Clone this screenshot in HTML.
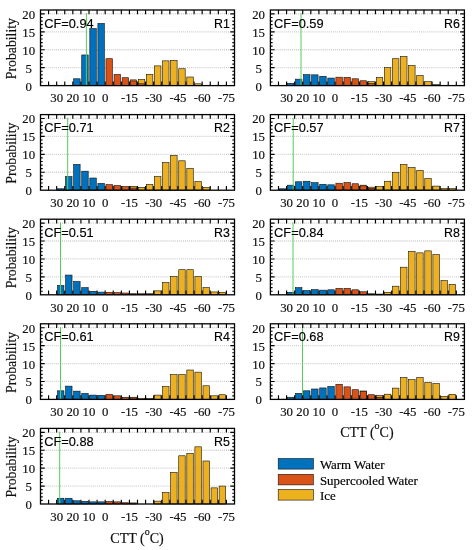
<!DOCTYPE html>
<html><head><meta charset="utf-8"><title>CTT histograms</title>
<style>
html,body{margin:0;padding:0;background:#fff;}
body{width:475px;height:550px;overflow:hidden;}
svg{display:block;}
.grid{stroke:#cdcdcd;stroke-width:1.3;stroke-dasharray:1 1.05;}
.bar{stroke:#111;stroke-width:0.6;}
.tick{stroke:#000;stroke-width:1.15;fill:none;}
.box{stroke:#000;stroke-width:1.3;fill:none;}
.tl{font-family:'Liberation Serif','Times New Roman',serif;font-size:12.8px;fill:#111;stroke:#111;stroke-width:0.18px;}
.lab{font-family:'Liberation Serif','Times New Roman',serif;font-size:13.75px;fill:#111;stroke:#111;stroke-width:0.18px;}
.ann{font-family:'Liberation Sans',Arial,sans-serif;font-size:12.8px;fill:#000;stroke:#000;stroke-width:0.15px;}
.leg{font-family:'Liberation Serif','Times New Roman',serif;font-size:12.9px;fill:#000;stroke:#000;stroke-width:0.18px;}
</style></head>
<body>
<svg width="475" height="550" viewBox="0 0 475 550">
<rect width="475" height="550" fill="#fff"/>
<line x1="41.5" y1="67.67" x2="233.5" y2="67.67" class="grid"/>
<line x1="41.5" y1="49.75" x2="233.5" y2="49.75" class="grid"/>
<line x1="41.5" y1="31.82" x2="233.5" y2="31.82" class="grid"/>
<line x1="41.5" y1="13.9" x2="233.5" y2="13.9" class="grid"/>
<rect x="73.64" y="78.79" width="6.47" height="6.81" fill="#0072BD" class="bar"/>
<rect x="81.73" y="54.95" width="6.47" height="30.65" fill="#0072BD" class="bar"/>
<rect x="89.81" y="28.6" width="6.47" height="57" fill="#0072BD" class="bar"/>
<rect x="97.89" y="23.4" width="6.47" height="62.2" fill="#0072BD" class="bar"/>
<rect x="130.22" y="79.86" width="6.47" height="5.74" fill="#EDB120" class="bar"/>
<rect x="138.31" y="79.51" width="6.47" height="6.09" fill="#EDB120" class="bar"/>
<rect x="146.39" y="74.31" width="6.47" height="11.29" fill="#EDB120" class="bar"/>
<rect x="154.47" y="65.88" width="6.47" height="19.72" fill="#EDB120" class="bar"/>
<rect x="162.56" y="60.86" width="6.47" height="24.74" fill="#EDB120" class="bar"/>
<rect x="170.64" y="60.33" width="6.47" height="25.27" fill="#EDB120" class="bar"/>
<rect x="178.73" y="68.75" width="6.47" height="16.85" fill="#EDB120" class="bar"/>
<rect x="186.81" y="77" width="6.47" height="8.6" fill="#EDB120" class="bar"/>
<rect x="194.89" y="83.81" width="6.47" height="1.79" fill="#EDB120" class="bar"/>
<rect x="105.97" y="58.71" width="6.47" height="26.89" fill="#D95319" class="bar"/>
<rect x="114.06" y="74.49" width="6.47" height="11.11" fill="#D95319" class="bar"/>
<rect x="122.14" y="77.71" width="6.47" height="7.89" fill="#D95319" class="bar"/>
<rect x="130.22" y="80.94" width="6.47" height="4.66" fill="#D95319" class="bar"/>
<rect x="138.31" y="83.81" width="6.47" height="1.79" fill="#D95319" class="bar"/>
<line x1="86.4" y1="13.2" x2="86.4" y2="85.6" stroke="rgb(86,205,86)" stroke-width="1"/>
<path d="M48.58 85.6v-4.2M48.58 10v4.2M56.67 85.6v-4.2M56.67 10v4.2M64.75 85.6v-4.2M64.75 10v4.2M72.83 85.6v-4.2M72.83 10v4.2M80.92 85.6v-4.2M80.92 10v4.2M89 85.6v-4.2M89 10v4.2M97.08 85.6v-4.2M97.08 10v4.2M105.17 85.6v-4.2M105.17 10v4.2M113.25 85.6v-4.2M113.25 10v4.2M121.33 85.6v-4.2M121.33 10v4.2M129.42 85.6v-4.2M129.42 10v4.2M137.5 85.6v-4.2M137.5 10v4.2M145.58 85.6v-4.2M145.58 10v4.2M153.67 85.6v-4.2M153.67 10v4.2M161.75 85.6v-4.2M161.75 10v4.2M169.83 85.6v-4.2M169.83 10v4.2M177.92 85.6v-4.2M177.92 10v4.2M186 85.6v-4.2M186 10v4.2M194.08 85.6v-4.2M194.08 10v4.2M202.17 85.6v-4.2M202.17 10v4.2M210.25 85.6v-4.2M210.25 10v4.2M218.33 85.6v-4.2M218.33 10v4.2M226.42 85.6v-4.2M226.42 10v4.2M40.5 82.02h2.2M234.5 82.02h-2.2M40.5 78.43h2.2M234.5 78.43h-2.2M40.5 74.84h2.2M234.5 74.84h-2.2M40.5 71.26h2.2M234.5 71.26h-2.2M40.5 67.67h4.2M234.5 67.67h-4.2M40.5 64.09h2.2M234.5 64.09h-2.2M40.5 60.5h2.2M234.5 60.5h-2.2M40.5 56.92h2.2M234.5 56.92h-2.2M40.5 53.33h2.2M234.5 53.33h-2.2M40.5 49.75h4.2M234.5 49.75h-4.2M40.5 46.16h2.2M234.5 46.16h-2.2M40.5 42.58h2.2M234.5 42.58h-2.2M40.5 38.99h2.2M234.5 38.99h-2.2M40.5 35.41h2.2M234.5 35.41h-2.2M40.5 31.82h4.2M234.5 31.82h-4.2M40.5 28.24h2.2M234.5 28.24h-2.2M40.5 24.65h2.2M234.5 24.65h-2.2M40.5 21.07h2.2M234.5 21.07h-2.2M40.5 17.48h2.2M234.5 17.48h-2.2M40.5 13.9h4.2M234.5 13.9h-4.2" class="tick"/>
<rect x="40.5" y="10" width="194" height="75.6" class="box"/>
<text x="28.7" y="90.55" class="tl" text-anchor="middle">0</text>
<text x="28.7" y="72.62" class="tl" text-anchor="middle">5</text>
<text x="28.7" y="54.7" class="tl" text-anchor="middle">10</text>
<text x="28.7" y="36.77" class="tl" text-anchor="middle">15</text>
<text x="28.7" y="18.85" class="tl" text-anchor="middle">20</text>
<text x="56.67" y="102.4" class="tl" text-anchor="middle">30</text>
<text x="72.83" y="102.4" class="tl" text-anchor="middle">20</text>
<text x="89" y="102.4" class="tl" text-anchor="middle">10</text>
<text x="105.17" y="102.4" class="tl" text-anchor="middle">0</text>
<text x="129.42" y="102.4" class="tl" text-anchor="middle">-15</text>
<text x="153.67" y="102.4" class="tl" text-anchor="middle">-30</text>
<text x="177.92" y="102.4" class="tl" text-anchor="middle">-45</text>
<text x="202.17" y="102.4" class="tl" text-anchor="middle">-60</text>
<text x="226.42" y="102.4" class="tl" text-anchor="middle">-75</text>
<text x="44.2" y="27.6" class="ann">CF=0.94</text>
<text x="229.9" y="27.6" class="ann" text-anchor="end" style="font-size:12.4px">R1</text>
<text x="16.1" y="48.6" class="lab" text-anchor="middle" transform="rotate(-90 16.1 48.6)">Probability</text>
<line x1="41.5" y1="172.27" x2="233.5" y2="172.27" class="grid"/>
<line x1="41.5" y1="154.35" x2="233.5" y2="154.35" class="grid"/>
<line x1="41.5" y1="136.42" x2="233.5" y2="136.42" class="grid"/>
<line x1="41.5" y1="118.5" x2="233.5" y2="118.5" class="grid"/>
<rect x="57.47" y="188.77" width="6.47" height="1.43" fill="#0072BD" class="bar"/>
<rect x="65.56" y="176.58" width="6.47" height="13.62" fill="#0072BD" class="bar"/>
<rect x="73.64" y="164.39" width="6.47" height="25.81" fill="#0072BD" class="bar"/>
<rect x="81.73" y="171.2" width="6.47" height="19" fill="#0072BD" class="bar"/>
<rect x="89.81" y="178.01" width="6.47" height="12.19" fill="#0072BD" class="bar"/>
<rect x="97.89" y="183.39" width="6.47" height="6.81" fill="#0072BD" class="bar"/>
<rect x="130.22" y="186.33" width="6.47" height="3.87" fill="#EDB120" class="bar"/>
<rect x="138.31" y="187.4" width="6.47" height="2.8" fill="#EDB120" class="bar"/>
<rect x="146.39" y="184.46" width="6.47" height="5.74" fill="#EDB120" class="bar"/>
<rect x="154.47" y="176.58" width="6.47" height="13.62" fill="#EDB120" class="bar"/>
<rect x="162.56" y="162.6" width="6.47" height="27.6" fill="#EDB120" class="bar"/>
<rect x="170.64" y="155.43" width="6.47" height="34.77" fill="#EDB120" class="bar"/>
<rect x="178.73" y="160.8" width="6.47" height="29.4" fill="#EDB120" class="bar"/>
<rect x="186.81" y="168.51" width="6.47" height="21.69" fill="#EDB120" class="bar"/>
<rect x="194.89" y="181.6" width="6.47" height="8.6" fill="#EDB120" class="bar"/>
<rect x="202.98" y="187.33" width="6.47" height="2.87" fill="#EDB120" class="bar"/>
<rect x="105.97" y="184.64" width="6.47" height="5.56" fill="#D95319" class="bar"/>
<rect x="114.06" y="185.54" width="6.47" height="4.66" fill="#D95319" class="bar"/>
<rect x="122.14" y="186.61" width="6.47" height="3.58" fill="#D95319" class="bar"/>
<rect x="130.22" y="188.05" width="6.47" height="2.15" fill="#D95319" class="bar"/>
<line x1="67.7" y1="117.8" x2="67.7" y2="190.2" stroke="rgb(86,205,86)" stroke-width="1"/>
<path d="M48.58 190.2v-4.2M48.58 114.6v4.2M56.67 190.2v-4.2M56.67 114.6v4.2M64.75 190.2v-4.2M64.75 114.6v4.2M72.83 190.2v-4.2M72.83 114.6v4.2M80.92 190.2v-4.2M80.92 114.6v4.2M89 190.2v-4.2M89 114.6v4.2M97.08 190.2v-4.2M97.08 114.6v4.2M105.17 190.2v-4.2M105.17 114.6v4.2M113.25 190.2v-4.2M113.25 114.6v4.2M121.33 190.2v-4.2M121.33 114.6v4.2M129.42 190.2v-4.2M129.42 114.6v4.2M137.5 190.2v-4.2M137.5 114.6v4.2M145.58 190.2v-4.2M145.58 114.6v4.2M153.67 190.2v-4.2M153.67 114.6v4.2M161.75 190.2v-4.2M161.75 114.6v4.2M169.83 190.2v-4.2M169.83 114.6v4.2M177.92 190.2v-4.2M177.92 114.6v4.2M186 190.2v-4.2M186 114.6v4.2M194.08 190.2v-4.2M194.08 114.6v4.2M202.17 190.2v-4.2M202.17 114.6v4.2M210.25 190.2v-4.2M210.25 114.6v4.2M218.33 190.2v-4.2M218.33 114.6v4.2M226.42 190.2v-4.2M226.42 114.6v4.2M40.5 186.61h2.2M234.5 186.61h-2.2M40.5 183.03h2.2M234.5 183.03h-2.2M40.5 179.44h2.2M234.5 179.44h-2.2M40.5 175.86h2.2M234.5 175.86h-2.2M40.5 172.27h4.2M234.5 172.27h-4.2M40.5 168.69h2.2M234.5 168.69h-2.2M40.5 165.1h2.2M234.5 165.1h-2.2M40.5 161.52h2.2M234.5 161.52h-2.2M40.5 157.94h2.2M234.5 157.94h-2.2M40.5 154.35h4.2M234.5 154.35h-4.2M40.5 150.76h2.2M234.5 150.76h-2.2M40.5 147.18h2.2M234.5 147.18h-2.2M40.5 143.59h2.2M234.5 143.59h-2.2M40.5 140.01h2.2M234.5 140.01h-2.2M40.5 136.42h4.2M234.5 136.42h-4.2M40.5 132.84h2.2M234.5 132.84h-2.2M40.5 129.25h2.2M234.5 129.25h-2.2M40.5 125.67h2.2M234.5 125.67h-2.2M40.5 122.08h2.2M234.5 122.08h-2.2M40.5 118.5h4.2M234.5 118.5h-4.2" class="tick"/>
<rect x="40.5" y="114.6" width="194" height="75.6" class="box"/>
<text x="28.7" y="195.15" class="tl" text-anchor="middle">0</text>
<text x="28.7" y="177.22" class="tl" text-anchor="middle">5</text>
<text x="28.7" y="159.3" class="tl" text-anchor="middle">10</text>
<text x="28.7" y="141.37" class="tl" text-anchor="middle">15</text>
<text x="28.7" y="123.45" class="tl" text-anchor="middle">20</text>
<text x="56.67" y="207" class="tl" text-anchor="middle">30</text>
<text x="72.83" y="207" class="tl" text-anchor="middle">20</text>
<text x="89" y="207" class="tl" text-anchor="middle">10</text>
<text x="105.17" y="207" class="tl" text-anchor="middle">0</text>
<text x="129.42" y="207" class="tl" text-anchor="middle">-15</text>
<text x="153.67" y="207" class="tl" text-anchor="middle">-30</text>
<text x="177.92" y="207" class="tl" text-anchor="middle">-45</text>
<text x="202.17" y="207" class="tl" text-anchor="middle">-60</text>
<text x="226.42" y="207" class="tl" text-anchor="middle">-75</text>
<text x="44.2" y="132.2" class="ann">CF=0.71</text>
<text x="229.9" y="132.2" class="ann" text-anchor="end" style="font-size:12.4px">R2</text>
<text x="16.1" y="153.2" class="lab" text-anchor="middle" transform="rotate(-90 16.1 153.2)">Probability</text>
<line x1="41.5" y1="276.87" x2="233.5" y2="276.87" class="grid"/>
<line x1="41.5" y1="258.95" x2="233.5" y2="258.95" class="grid"/>
<line x1="41.5" y1="241.02" x2="233.5" y2="241.02" class="grid"/>
<line x1="41.5" y1="223.1" x2="233.5" y2="223.1" class="grid"/>
<rect x="57.47" y="285.48" width="6.47" height="9.32" fill="#0072BD" class="bar"/>
<rect x="65.56" y="275.08" width="6.47" height="19.72" fill="#0072BD" class="bar"/>
<rect x="73.64" y="281.54" width="6.47" height="13.26" fill="#0072BD" class="bar"/>
<rect x="81.73" y="287.63" width="6.47" height="7.17" fill="#0072BD" class="bar"/>
<rect x="89.81" y="291.32" width="6.47" height="3.48" fill="#0072BD" class="bar"/>
<rect x="97.89" y="292.11" width="6.47" height="2.69" fill="#0072BD" class="bar"/>
<rect x="138.31" y="293.72" width="6.47" height="1.08" fill="#EDB120" class="bar"/>
<rect x="146.39" y="293.72" width="6.47" height="1.08" fill="#EDB120" class="bar"/>
<rect x="154.47" y="290.86" width="6.47" height="3.94" fill="#EDB120" class="bar"/>
<rect x="162.56" y="282.61" width="6.47" height="12.19" fill="#EDB120" class="bar"/>
<rect x="170.64" y="276.52" width="6.47" height="18.28" fill="#EDB120" class="bar"/>
<rect x="178.73" y="269.7" width="6.47" height="25.09" fill="#EDB120" class="bar"/>
<rect x="186.81" y="269.7" width="6.47" height="25.09" fill="#EDB120" class="bar"/>
<rect x="194.89" y="276.52" width="6.47" height="18.28" fill="#EDB120" class="bar"/>
<rect x="202.98" y="287.63" width="6.47" height="7.17" fill="#EDB120" class="bar"/>
<rect x="211.06" y="291.93" width="6.47" height="2.87" fill="#EDB120" class="bar"/>
<rect x="219.14" y="292.29" width="6.47" height="2.51" fill="#EDB120" class="bar"/>
<rect x="105.97" y="292.29" width="6.47" height="2.51" fill="#D95319" class="bar"/>
<rect x="114.06" y="292.65" width="6.47" height="2.15" fill="#D95319" class="bar"/>
<rect x="122.14" y="293.01" width="6.47" height="1.79" fill="#D95319" class="bar"/>
<rect x="130.22" y="293.72" width="6.47" height="1.08" fill="#D95319" class="bar"/>
<line x1="60.5" y1="222.4" x2="60.5" y2="294.8" stroke="rgb(86,205,86)" stroke-width="1"/>
<path d="M48.58 294.8v-4.2M48.58 219.2v4.2M56.67 294.8v-4.2M56.67 219.2v4.2M64.75 294.8v-4.2M64.75 219.2v4.2M72.83 294.8v-4.2M72.83 219.2v4.2M80.92 294.8v-4.2M80.92 219.2v4.2M89 294.8v-4.2M89 219.2v4.2M97.08 294.8v-4.2M97.08 219.2v4.2M105.17 294.8v-4.2M105.17 219.2v4.2M113.25 294.8v-4.2M113.25 219.2v4.2M121.33 294.8v-4.2M121.33 219.2v4.2M129.42 294.8v-4.2M129.42 219.2v4.2M137.5 294.8v-4.2M137.5 219.2v4.2M145.58 294.8v-4.2M145.58 219.2v4.2M153.67 294.8v-4.2M153.67 219.2v4.2M161.75 294.8v-4.2M161.75 219.2v4.2M169.83 294.8v-4.2M169.83 219.2v4.2M177.92 294.8v-4.2M177.92 219.2v4.2M186 294.8v-4.2M186 219.2v4.2M194.08 294.8v-4.2M194.08 219.2v4.2M202.17 294.8v-4.2M202.17 219.2v4.2M210.25 294.8v-4.2M210.25 219.2v4.2M218.33 294.8v-4.2M218.33 219.2v4.2M226.42 294.8v-4.2M226.42 219.2v4.2M40.5 291.21h2.2M234.5 291.21h-2.2M40.5 287.63h2.2M234.5 287.63h-2.2M40.5 284.04h2.2M234.5 284.04h-2.2M40.5 280.46h2.2M234.5 280.46h-2.2M40.5 276.87h4.2M234.5 276.87h-4.2M40.5 273.29h2.2M234.5 273.29h-2.2M40.5 269.7h2.2M234.5 269.7h-2.2M40.5 266.12h2.2M234.5 266.12h-2.2M40.5 262.53h2.2M234.5 262.53h-2.2M40.5 258.95h4.2M234.5 258.95h-4.2M40.5 255.36h2.2M234.5 255.36h-2.2M40.5 251.78h2.2M234.5 251.78h-2.2M40.5 248.19h2.2M234.5 248.19h-2.2M40.5 244.61h2.2M234.5 244.61h-2.2M40.5 241.02h4.2M234.5 241.02h-4.2M40.5 237.44h2.2M234.5 237.44h-2.2M40.5 233.85h2.2M234.5 233.85h-2.2M40.5 230.27h2.2M234.5 230.27h-2.2M40.5 226.68h2.2M234.5 226.68h-2.2M40.5 223.1h4.2M234.5 223.1h-4.2" class="tick"/>
<rect x="40.5" y="219.2" width="194" height="75.6" class="box"/>
<text x="28.7" y="299.75" class="tl" text-anchor="middle">0</text>
<text x="28.7" y="281.82" class="tl" text-anchor="middle">5</text>
<text x="28.7" y="263.9" class="tl" text-anchor="middle">10</text>
<text x="28.7" y="245.97" class="tl" text-anchor="middle">15</text>
<text x="28.7" y="228.05" class="tl" text-anchor="middle">20</text>
<text x="56.67" y="311.6" class="tl" text-anchor="middle">30</text>
<text x="72.83" y="311.6" class="tl" text-anchor="middle">20</text>
<text x="89" y="311.6" class="tl" text-anchor="middle">10</text>
<text x="105.17" y="311.6" class="tl" text-anchor="middle">0</text>
<text x="129.42" y="311.6" class="tl" text-anchor="middle">-15</text>
<text x="153.67" y="311.6" class="tl" text-anchor="middle">-30</text>
<text x="177.92" y="311.6" class="tl" text-anchor="middle">-45</text>
<text x="202.17" y="311.6" class="tl" text-anchor="middle">-60</text>
<text x="226.42" y="311.6" class="tl" text-anchor="middle">-75</text>
<text x="44.2" y="236.8" class="ann">CF=0.51</text>
<text x="229.9" y="236.8" class="ann" text-anchor="end" style="font-size:12.4px">R3</text>
<text x="16.1" y="257.8" class="lab" text-anchor="middle" transform="rotate(-90 16.1 257.8)">Probability</text>
<line x1="41.5" y1="381.47" x2="233.5" y2="381.47" class="grid"/>
<line x1="41.5" y1="363.55" x2="233.5" y2="363.55" class="grid"/>
<line x1="41.5" y1="345.62" x2="233.5" y2="345.62" class="grid"/>
<line x1="41.5" y1="327.7" x2="233.5" y2="327.7" class="grid"/>
<rect x="57.47" y="390.8" width="6.47" height="8.6" fill="#0072BD" class="bar"/>
<rect x="65.56" y="386.14" width="6.47" height="13.26" fill="#0072BD" class="bar"/>
<rect x="73.64" y="391.15" width="6.47" height="8.25" fill="#0072BD" class="bar"/>
<rect x="81.73" y="393.41" width="6.47" height="5.99" fill="#0072BD" class="bar"/>
<rect x="89.81" y="395.1" width="6.47" height="4.3" fill="#0072BD" class="bar"/>
<rect x="97.89" y="395.28" width="6.47" height="4.12" fill="#0072BD" class="bar"/>
<rect x="130.22" y="397.25" width="6.47" height="2.15" fill="#EDB120" class="bar"/>
<rect x="138.31" y="398.32" width="6.47" height="1.08" fill="#EDB120" class="bar"/>
<rect x="146.39" y="398.32" width="6.47" height="1.08" fill="#EDB120" class="bar"/>
<rect x="154.47" y="395.1" width="6.47" height="4.3" fill="#EDB120" class="bar"/>
<rect x="162.56" y="386.49" width="6.47" height="12.91" fill="#EDB120" class="bar"/>
<rect x="170.64" y="374.66" width="6.47" height="24.74" fill="#EDB120" class="bar"/>
<rect x="178.73" y="374.48" width="6.47" height="24.92" fill="#EDB120" class="bar"/>
<rect x="186.81" y="370" width="6.47" height="29.4" fill="#EDB120" class="bar"/>
<rect x="194.89" y="372.15" width="6.47" height="27.25" fill="#EDB120" class="bar"/>
<rect x="202.98" y="385.78" width="6.47" height="13.62" fill="#EDB120" class="bar"/>
<rect x="211.06" y="395.81" width="6.47" height="3.58" fill="#EDB120" class="bar"/>
<rect x="219.14" y="394.74" width="6.47" height="4.66" fill="#EDB120" class="bar"/>
<rect x="105.97" y="394.38" width="6.47" height="5.02" fill="#D95319" class="bar"/>
<rect x="114.06" y="395.81" width="6.47" height="3.58" fill="#D95319" class="bar"/>
<rect x="122.14" y="397.25" width="6.47" height="2.15" fill="#D95319" class="bar"/>
<rect x="130.22" y="397.97" width="6.47" height="1.43" fill="#D95319" class="bar"/>
<line x1="60.5" y1="327" x2="60.5" y2="399.4" stroke="rgb(86,205,86)" stroke-width="1"/>
<path d="M48.58 399.4v-4.2M48.58 323.8v4.2M56.67 399.4v-4.2M56.67 323.8v4.2M64.75 399.4v-4.2M64.75 323.8v4.2M72.83 399.4v-4.2M72.83 323.8v4.2M80.92 399.4v-4.2M80.92 323.8v4.2M89 399.4v-4.2M89 323.8v4.2M97.08 399.4v-4.2M97.08 323.8v4.2M105.17 399.4v-4.2M105.17 323.8v4.2M113.25 399.4v-4.2M113.25 323.8v4.2M121.33 399.4v-4.2M121.33 323.8v4.2M129.42 399.4v-4.2M129.42 323.8v4.2M137.5 399.4v-4.2M137.5 323.8v4.2M145.58 399.4v-4.2M145.58 323.8v4.2M153.67 399.4v-4.2M153.67 323.8v4.2M161.75 399.4v-4.2M161.75 323.8v4.2M169.83 399.4v-4.2M169.83 323.8v4.2M177.92 399.4v-4.2M177.92 323.8v4.2M186 399.4v-4.2M186 323.8v4.2M194.08 399.4v-4.2M194.08 323.8v4.2M202.17 399.4v-4.2M202.17 323.8v4.2M210.25 399.4v-4.2M210.25 323.8v4.2M218.33 399.4v-4.2M218.33 323.8v4.2M226.42 399.4v-4.2M226.42 323.8v4.2M40.5 395.81h2.2M234.5 395.81h-2.2M40.5 392.23h2.2M234.5 392.23h-2.2M40.5 388.64h2.2M234.5 388.64h-2.2M40.5 385.06h2.2M234.5 385.06h-2.2M40.5 381.47h4.2M234.5 381.47h-4.2M40.5 377.89h2.2M234.5 377.89h-2.2M40.5 374.3h2.2M234.5 374.3h-2.2M40.5 370.72h2.2M234.5 370.72h-2.2M40.5 367.13h2.2M234.5 367.13h-2.2M40.5 363.55h4.2M234.5 363.55h-4.2M40.5 359.96h2.2M234.5 359.96h-2.2M40.5 356.38h2.2M234.5 356.38h-2.2M40.5 352.79h2.2M234.5 352.79h-2.2M40.5 349.21h2.2M234.5 349.21h-2.2M40.5 345.62h4.2M234.5 345.62h-4.2M40.5 342.04h2.2M234.5 342.04h-2.2M40.5 338.45h2.2M234.5 338.45h-2.2M40.5 334.87h2.2M234.5 334.87h-2.2M40.5 331.28h2.2M234.5 331.28h-2.2M40.5 327.7h4.2M234.5 327.7h-4.2" class="tick"/>
<rect x="40.5" y="323.8" width="194" height="75.6" class="box"/>
<text x="28.7" y="404.35" class="tl" text-anchor="middle">0</text>
<text x="28.7" y="386.42" class="tl" text-anchor="middle">5</text>
<text x="28.7" y="368.5" class="tl" text-anchor="middle">10</text>
<text x="28.7" y="350.57" class="tl" text-anchor="middle">15</text>
<text x="28.7" y="332.65" class="tl" text-anchor="middle">20</text>
<text x="56.67" y="416.2" class="tl" text-anchor="middle">30</text>
<text x="72.83" y="416.2" class="tl" text-anchor="middle">20</text>
<text x="89" y="416.2" class="tl" text-anchor="middle">10</text>
<text x="105.17" y="416.2" class="tl" text-anchor="middle">0</text>
<text x="129.42" y="416.2" class="tl" text-anchor="middle">-15</text>
<text x="153.67" y="416.2" class="tl" text-anchor="middle">-30</text>
<text x="177.92" y="416.2" class="tl" text-anchor="middle">-45</text>
<text x="202.17" y="416.2" class="tl" text-anchor="middle">-60</text>
<text x="226.42" y="416.2" class="tl" text-anchor="middle">-75</text>
<text x="44.2" y="341.4" class="ann">CF=0.61</text>
<text x="229.9" y="341.4" class="ann" text-anchor="end" style="font-size:12.4px">R4</text>
<text x="16.1" y="362.4" class="lab" text-anchor="middle" transform="rotate(-90 16.1 362.4)">Probability</text>
<line x1="41.5" y1="486.07" x2="233.5" y2="486.07" class="grid"/>
<line x1="41.5" y1="468.15" x2="233.5" y2="468.15" class="grid"/>
<line x1="41.5" y1="450.23" x2="233.5" y2="450.23" class="grid"/>
<line x1="41.5" y1="432.3" x2="233.5" y2="432.3" class="grid"/>
<rect x="57.47" y="498.26" width="6.47" height="5.74" fill="#0072BD" class="bar"/>
<rect x="65.56" y="498.26" width="6.47" height="5.74" fill="#0072BD" class="bar"/>
<rect x="73.64" y="500.77" width="6.47" height="3.23" fill="#0072BD" class="bar"/>
<rect x="81.73" y="501.31" width="6.47" height="2.69" fill="#0072BD" class="bar"/>
<rect x="89.81" y="501.85" width="6.47" height="2.15" fill="#0072BD" class="bar"/>
<rect x="97.89" y="501.85" width="6.47" height="2.15" fill="#0072BD" class="bar"/>
<rect x="154.47" y="501.13" width="6.47" height="2.87" fill="#EDB120" class="bar"/>
<rect x="162.56" y="492.53" width="6.47" height="11.47" fill="#EDB120" class="bar"/>
<rect x="170.64" y="472.45" width="6.47" height="31.55" fill="#EDB120" class="bar"/>
<rect x="178.73" y="455.78" width="6.47" height="48.22" fill="#EDB120" class="bar"/>
<rect x="186.81" y="453.45" width="6.47" height="50.55" fill="#EDB120" class="bar"/>
<rect x="194.89" y="446.82" width="6.47" height="57.18" fill="#EDB120" class="bar"/>
<rect x="202.98" y="460.98" width="6.47" height="43.02" fill="#EDB120" class="bar"/>
<rect x="211.06" y="487.87" width="6.47" height="16.13" fill="#EDB120" class="bar"/>
<rect x="219.14" y="486.07" width="6.47" height="17.93" fill="#EDB120" class="bar"/>
<rect x="105.97" y="501.49" width="6.47" height="2.51" fill="#D95319" class="bar"/>
<rect x="114.06" y="501.85" width="6.47" height="2.15" fill="#D95319" class="bar"/>
<rect x="122.14" y="502.75" width="6.47" height="1.25" fill="#D95319" class="bar"/>
<rect x="130.22" y="502.92" width="6.47" height="1.08" fill="#D95319" class="bar"/>
<line x1="59.7" y1="431.6" x2="59.7" y2="504" stroke="rgb(86,205,86)" stroke-width="1"/>
<path d="M48.58 504v-4.2M48.58 428.4v4.2M56.67 504v-4.2M56.67 428.4v4.2M64.75 504v-4.2M64.75 428.4v4.2M72.83 504v-4.2M72.83 428.4v4.2M80.92 504v-4.2M80.92 428.4v4.2M89 504v-4.2M89 428.4v4.2M97.08 504v-4.2M97.08 428.4v4.2M105.17 504v-4.2M105.17 428.4v4.2M113.25 504v-4.2M113.25 428.4v4.2M121.33 504v-4.2M121.33 428.4v4.2M129.42 504v-4.2M129.42 428.4v4.2M137.5 504v-4.2M137.5 428.4v4.2M145.58 504v-4.2M145.58 428.4v4.2M153.67 504v-4.2M153.67 428.4v4.2M161.75 504v-4.2M161.75 428.4v4.2M169.83 504v-4.2M169.83 428.4v4.2M177.92 504v-4.2M177.92 428.4v4.2M186 504v-4.2M186 428.4v4.2M194.08 504v-4.2M194.08 428.4v4.2M202.17 504v-4.2M202.17 428.4v4.2M210.25 504v-4.2M210.25 428.4v4.2M218.33 504v-4.2M218.33 428.4v4.2M226.42 504v-4.2M226.42 428.4v4.2M40.5 500.42h2.2M234.5 500.42h-2.2M40.5 496.83h2.2M234.5 496.83h-2.2M40.5 493.25h2.2M234.5 493.25h-2.2M40.5 489.66h2.2M234.5 489.66h-2.2M40.5 486.07h4.2M234.5 486.07h-4.2M40.5 482.49h2.2M234.5 482.49h-2.2M40.5 478.9h2.2M234.5 478.9h-2.2M40.5 475.32h2.2M234.5 475.32h-2.2M40.5 471.74h2.2M234.5 471.74h-2.2M40.5 468.15h4.2M234.5 468.15h-4.2M40.5 464.56h2.2M234.5 464.56h-2.2M40.5 460.98h2.2M234.5 460.98h-2.2M40.5 457.39h2.2M234.5 457.39h-2.2M40.5 453.81h2.2M234.5 453.81h-2.2M40.5 450.23h4.2M234.5 450.23h-4.2M40.5 446.64h2.2M234.5 446.64h-2.2M40.5 443.06h2.2M234.5 443.06h-2.2M40.5 439.47h2.2M234.5 439.47h-2.2M40.5 435.88h2.2M234.5 435.88h-2.2M40.5 432.3h4.2M234.5 432.3h-4.2" class="tick"/>
<rect x="40.5" y="428.4" width="194" height="75.6" class="box"/>
<text x="28.7" y="508.95" class="tl" text-anchor="middle">0</text>
<text x="28.7" y="491.02" class="tl" text-anchor="middle">5</text>
<text x="28.7" y="473.1" class="tl" text-anchor="middle">10</text>
<text x="28.7" y="455.18" class="tl" text-anchor="middle">15</text>
<text x="28.7" y="437.25" class="tl" text-anchor="middle">20</text>
<text x="56.67" y="520.8" class="tl" text-anchor="middle">30</text>
<text x="72.83" y="520.8" class="tl" text-anchor="middle">20</text>
<text x="89" y="520.8" class="tl" text-anchor="middle">10</text>
<text x="105.17" y="520.8" class="tl" text-anchor="middle">0</text>
<text x="129.42" y="520.8" class="tl" text-anchor="middle">-15</text>
<text x="153.67" y="520.8" class="tl" text-anchor="middle">-30</text>
<text x="177.92" y="520.8" class="tl" text-anchor="middle">-45</text>
<text x="202.17" y="520.8" class="tl" text-anchor="middle">-60</text>
<text x="226.42" y="520.8" class="tl" text-anchor="middle">-75</text>
<text x="44.2" y="446" class="ann">CF=0.88</text>
<text x="229.9" y="446" class="ann" text-anchor="end" style="font-size:12.4px">R5</text>
<text x="16.1" y="467" class="lab" text-anchor="middle" transform="rotate(-90 16.1 467)">Probability</text>
<line x1="271.4" y1="67.67" x2="463.4" y2="67.67" class="grid"/>
<line x1="271.4" y1="49.75" x2="463.4" y2="49.75" class="grid"/>
<line x1="271.4" y1="31.82" x2="463.4" y2="31.82" class="grid"/>
<line x1="271.4" y1="13.9" x2="463.4" y2="13.9" class="grid"/>
<rect x="287.37" y="83.27" width="6.47" height="2.33" fill="#0072BD" class="bar"/>
<rect x="295.46" y="79.15" width="6.47" height="6.45" fill="#0072BD" class="bar"/>
<rect x="303.54" y="74.67" width="6.47" height="10.93" fill="#0072BD" class="bar"/>
<rect x="311.62" y="74.84" width="6.47" height="10.75" fill="#0072BD" class="bar"/>
<rect x="319.71" y="76.28" width="6.47" height="9.32" fill="#0072BD" class="bar"/>
<rect x="327.79" y="78.07" width="6.47" height="7.53" fill="#0072BD" class="bar"/>
<rect x="368.21" y="81.66" width="6.47" height="3.94" fill="#EDB120" class="bar"/>
<rect x="376.29" y="77.53" width="6.47" height="8.07" fill="#EDB120" class="bar"/>
<rect x="384.37" y="67.67" width="6.47" height="17.93" fill="#EDB120" class="bar"/>
<rect x="392.46" y="58.71" width="6.47" height="26.89" fill="#EDB120" class="bar"/>
<rect x="400.54" y="56.56" width="6.47" height="29.04" fill="#EDB120" class="bar"/>
<rect x="408.62" y="65.52" width="6.47" height="20.08" fill="#EDB120" class="bar"/>
<rect x="416.71" y="75.56" width="6.47" height="10.04" fill="#EDB120" class="bar"/>
<rect x="424.79" y="81.66" width="6.47" height="3.94" fill="#EDB120" class="bar"/>
<rect x="432.88" y="84.52" width="6.47" height="1.08" fill="#EDB120" class="bar"/>
<rect x="335.87" y="77.18" width="6.47" height="8.42" fill="#D95319" class="bar"/>
<rect x="343.96" y="77.35" width="6.47" height="8.25" fill="#D95319" class="bar"/>
<rect x="352.04" y="78.79" width="6.47" height="6.81" fill="#D95319" class="bar"/>
<rect x="360.12" y="80.76" width="6.47" height="4.84" fill="#D95319" class="bar"/>
<rect x="368.21" y="83.63" width="6.47" height="1.97" fill="#D95319" class="bar"/>
<line x1="301" y1="13.2" x2="301" y2="85.6" stroke="rgb(86,205,86)" stroke-width="1"/>
<path d="M278.48 85.6v-4.2M278.48 10v4.2M286.57 85.6v-4.2M286.57 10v4.2M294.65 85.6v-4.2M294.65 10v4.2M302.73 85.6v-4.2M302.73 10v4.2M310.82 85.6v-4.2M310.82 10v4.2M318.9 85.6v-4.2M318.9 10v4.2M326.98 85.6v-4.2M326.98 10v4.2M335.07 85.6v-4.2M335.07 10v4.2M343.15 85.6v-4.2M343.15 10v4.2M351.23 85.6v-4.2M351.23 10v4.2M359.32 85.6v-4.2M359.32 10v4.2M367.4 85.6v-4.2M367.4 10v4.2M375.48 85.6v-4.2M375.48 10v4.2M383.57 85.6v-4.2M383.57 10v4.2M391.65 85.6v-4.2M391.65 10v4.2M399.73 85.6v-4.2M399.73 10v4.2M407.82 85.6v-4.2M407.82 10v4.2M415.9 85.6v-4.2M415.9 10v4.2M423.98 85.6v-4.2M423.98 10v4.2M432.07 85.6v-4.2M432.07 10v4.2M440.15 85.6v-4.2M440.15 10v4.2M448.23 85.6v-4.2M448.23 10v4.2M456.32 85.6v-4.2M456.32 10v4.2M270.4 82.02h2.2M464.4 82.02h-2.2M270.4 78.43h2.2M464.4 78.43h-2.2M270.4 74.84h2.2M464.4 74.84h-2.2M270.4 71.26h2.2M464.4 71.26h-2.2M270.4 67.67h4.2M464.4 67.67h-4.2M270.4 64.09h2.2M464.4 64.09h-2.2M270.4 60.5h2.2M464.4 60.5h-2.2M270.4 56.92h2.2M464.4 56.92h-2.2M270.4 53.33h2.2M464.4 53.33h-2.2M270.4 49.75h4.2M464.4 49.75h-4.2M270.4 46.16h2.2M464.4 46.16h-2.2M270.4 42.58h2.2M464.4 42.58h-2.2M270.4 38.99h2.2M464.4 38.99h-2.2M270.4 35.41h2.2M464.4 35.41h-2.2M270.4 31.82h4.2M464.4 31.82h-4.2M270.4 28.24h2.2M464.4 28.24h-2.2M270.4 24.65h2.2M464.4 24.65h-2.2M270.4 21.07h2.2M464.4 21.07h-2.2M270.4 17.48h2.2M464.4 17.48h-2.2M270.4 13.9h4.2M464.4 13.9h-4.2" class="tick"/>
<rect x="270.4" y="10" width="194" height="75.6" class="box"/>
<text x="258.6" y="90.55" class="tl" text-anchor="middle">0</text>
<text x="258.6" y="72.62" class="tl" text-anchor="middle">5</text>
<text x="258.6" y="54.7" class="tl" text-anchor="middle">10</text>
<text x="258.6" y="36.77" class="tl" text-anchor="middle">15</text>
<text x="258.6" y="18.85" class="tl" text-anchor="middle">20</text>
<text x="286.57" y="102.4" class="tl" text-anchor="middle">30</text>
<text x="302.73" y="102.4" class="tl" text-anchor="middle">20</text>
<text x="318.9" y="102.4" class="tl" text-anchor="middle">10</text>
<text x="335.07" y="102.4" class="tl" text-anchor="middle">0</text>
<text x="359.32" y="102.4" class="tl" text-anchor="middle">-15</text>
<text x="383.57" y="102.4" class="tl" text-anchor="middle">-30</text>
<text x="407.82" y="102.4" class="tl" text-anchor="middle">-45</text>
<text x="432.07" y="102.4" class="tl" text-anchor="middle">-60</text>
<text x="456.32" y="102.4" class="tl" text-anchor="middle">-75</text>
<text x="274.1" y="27.6" class="ann">CF=0.59</text>
<text x="459.8" y="27.6" class="ann" text-anchor="end" style="font-size:12.4px">R6</text>
<line x1="271.4" y1="172.27" x2="463.4" y2="172.27" class="grid"/>
<line x1="271.4" y1="154.35" x2="463.4" y2="154.35" class="grid"/>
<line x1="271.4" y1="136.42" x2="463.4" y2="136.42" class="grid"/>
<line x1="271.4" y1="118.5" x2="463.4" y2="118.5" class="grid"/>
<rect x="279.29" y="188.77" width="6.47" height="1.43" fill="#0072BD" class="bar"/>
<rect x="287.37" y="185.18" width="6.47" height="5.02" fill="#0072BD" class="bar"/>
<rect x="295.46" y="181.78" width="6.47" height="8.42" fill="#0072BD" class="bar"/>
<rect x="303.54" y="181.24" width="6.47" height="8.96" fill="#0072BD" class="bar"/>
<rect x="311.62" y="182.67" width="6.47" height="7.53" fill="#0072BD" class="bar"/>
<rect x="319.71" y="184.28" width="6.47" height="5.92" fill="#0072BD" class="bar"/>
<rect x="327.79" y="184.82" width="6.47" height="5.38" fill="#0072BD" class="bar"/>
<rect x="360.12" y="185.18" width="6.47" height="5.02" fill="#EDB120" class="bar"/>
<rect x="368.21" y="187.15" width="6.47" height="3.05" fill="#EDB120" class="bar"/>
<rect x="376.29" y="186.61" width="6.47" height="3.58" fill="#EDB120" class="bar"/>
<rect x="384.37" y="181.24" width="6.47" height="8.96" fill="#EDB120" class="bar"/>
<rect x="392.46" y="172.63" width="6.47" height="17.57" fill="#EDB120" class="bar"/>
<rect x="400.54" y="164.39" width="6.47" height="25.81" fill="#EDB120" class="bar"/>
<rect x="408.62" y="167.44" width="6.47" height="22.76" fill="#EDB120" class="bar"/>
<rect x="416.71" y="170.48" width="6.47" height="19.72" fill="#EDB120" class="bar"/>
<rect x="424.79" y="178.55" width="6.47" height="11.65" fill="#EDB120" class="bar"/>
<rect x="432.88" y="186.08" width="6.47" height="4.12" fill="#EDB120" class="bar"/>
<rect x="440.96" y="188.59" width="6.47" height="1.61" fill="#EDB120" class="bar"/>
<rect x="449.04" y="188.59" width="6.47" height="1.61" fill="#EDB120" class="bar"/>
<rect x="335.87" y="183.21" width="6.47" height="6.99" fill="#D95319" class="bar"/>
<rect x="343.96" y="182.49" width="6.47" height="7.71" fill="#D95319" class="bar"/>
<rect x="352.04" y="183.75" width="6.47" height="6.45" fill="#D95319" class="bar"/>
<rect x="360.12" y="185.9" width="6.47" height="4.3" fill="#D95319" class="bar"/>
<rect x="368.21" y="188.41" width="6.47" height="1.79" fill="#D95319" class="bar"/>
<line x1="293.2" y1="117.8" x2="293.2" y2="190.2" stroke="rgb(86,205,86)" stroke-width="1"/>
<path d="M278.48 190.2v-4.2M278.48 114.6v4.2M286.57 190.2v-4.2M286.57 114.6v4.2M294.65 190.2v-4.2M294.65 114.6v4.2M302.73 190.2v-4.2M302.73 114.6v4.2M310.82 190.2v-4.2M310.82 114.6v4.2M318.9 190.2v-4.2M318.9 114.6v4.2M326.98 190.2v-4.2M326.98 114.6v4.2M335.07 190.2v-4.2M335.07 114.6v4.2M343.15 190.2v-4.2M343.15 114.6v4.2M351.23 190.2v-4.2M351.23 114.6v4.2M359.32 190.2v-4.2M359.32 114.6v4.2M367.4 190.2v-4.2M367.4 114.6v4.2M375.48 190.2v-4.2M375.48 114.6v4.2M383.57 190.2v-4.2M383.57 114.6v4.2M391.65 190.2v-4.2M391.65 114.6v4.2M399.73 190.2v-4.2M399.73 114.6v4.2M407.82 190.2v-4.2M407.82 114.6v4.2M415.9 190.2v-4.2M415.9 114.6v4.2M423.98 190.2v-4.2M423.98 114.6v4.2M432.07 190.2v-4.2M432.07 114.6v4.2M440.15 190.2v-4.2M440.15 114.6v4.2M448.23 190.2v-4.2M448.23 114.6v4.2M456.32 190.2v-4.2M456.32 114.6v4.2M270.4 186.61h2.2M464.4 186.61h-2.2M270.4 183.03h2.2M464.4 183.03h-2.2M270.4 179.44h2.2M464.4 179.44h-2.2M270.4 175.86h2.2M464.4 175.86h-2.2M270.4 172.27h4.2M464.4 172.27h-4.2M270.4 168.69h2.2M464.4 168.69h-2.2M270.4 165.1h2.2M464.4 165.1h-2.2M270.4 161.52h2.2M464.4 161.52h-2.2M270.4 157.94h2.2M464.4 157.94h-2.2M270.4 154.35h4.2M464.4 154.35h-4.2M270.4 150.76h2.2M464.4 150.76h-2.2M270.4 147.18h2.2M464.4 147.18h-2.2M270.4 143.59h2.2M464.4 143.59h-2.2M270.4 140.01h2.2M464.4 140.01h-2.2M270.4 136.42h4.2M464.4 136.42h-4.2M270.4 132.84h2.2M464.4 132.84h-2.2M270.4 129.25h2.2M464.4 129.25h-2.2M270.4 125.67h2.2M464.4 125.67h-2.2M270.4 122.08h2.2M464.4 122.08h-2.2M270.4 118.5h4.2M464.4 118.5h-4.2" class="tick"/>
<rect x="270.4" y="114.6" width="194" height="75.6" class="box"/>
<text x="258.6" y="195.15" class="tl" text-anchor="middle">0</text>
<text x="258.6" y="177.22" class="tl" text-anchor="middle">5</text>
<text x="258.6" y="159.3" class="tl" text-anchor="middle">10</text>
<text x="258.6" y="141.37" class="tl" text-anchor="middle">15</text>
<text x="258.6" y="123.45" class="tl" text-anchor="middle">20</text>
<text x="286.57" y="207" class="tl" text-anchor="middle">30</text>
<text x="302.73" y="207" class="tl" text-anchor="middle">20</text>
<text x="318.9" y="207" class="tl" text-anchor="middle">10</text>
<text x="335.07" y="207" class="tl" text-anchor="middle">0</text>
<text x="359.32" y="207" class="tl" text-anchor="middle">-15</text>
<text x="383.57" y="207" class="tl" text-anchor="middle">-30</text>
<text x="407.82" y="207" class="tl" text-anchor="middle">-45</text>
<text x="432.07" y="207" class="tl" text-anchor="middle">-60</text>
<text x="456.32" y="207" class="tl" text-anchor="middle">-75</text>
<text x="274.1" y="132.2" class="ann">CF=0.57</text>
<text x="459.8" y="132.2" class="ann" text-anchor="end" style="font-size:12.4px">R7</text>
<line x1="271.4" y1="276.87" x2="463.4" y2="276.87" class="grid"/>
<line x1="271.4" y1="258.95" x2="463.4" y2="258.95" class="grid"/>
<line x1="271.4" y1="241.02" x2="463.4" y2="241.02" class="grid"/>
<line x1="271.4" y1="223.1" x2="463.4" y2="223.1" class="grid"/>
<rect x="287.37" y="292.29" width="6.47" height="2.51" fill="#0072BD" class="bar"/>
<rect x="295.46" y="287.63" width="6.47" height="7.17" fill="#0072BD" class="bar"/>
<rect x="303.54" y="290.5" width="6.47" height="4.3" fill="#0072BD" class="bar"/>
<rect x="311.62" y="289.6" width="6.47" height="5.2" fill="#0072BD" class="bar"/>
<rect x="319.71" y="290.14" width="6.47" height="4.66" fill="#0072BD" class="bar"/>
<rect x="327.79" y="289.78" width="6.47" height="5.02" fill="#0072BD" class="bar"/>
<rect x="368.21" y="293.72" width="6.47" height="1.08" fill="#EDB120" class="bar"/>
<rect x="376.29" y="294.08" width="6.47" height="0.72" fill="#EDB120" class="bar"/>
<rect x="384.37" y="292.29" width="6.47" height="2.51" fill="#EDB120" class="bar"/>
<rect x="392.46" y="286.2" width="6.47" height="8.6" fill="#EDB120" class="bar"/>
<rect x="400.54" y="267.2" width="6.47" height="27.6" fill="#EDB120" class="bar"/>
<rect x="408.62" y="251.42" width="6.47" height="43.38" fill="#EDB120" class="bar"/>
<rect x="416.71" y="252.86" width="6.47" height="41.94" fill="#EDB120" class="bar"/>
<rect x="424.79" y="250.88" width="6.47" height="43.92" fill="#EDB120" class="bar"/>
<rect x="432.88" y="254.65" width="6.47" height="40.15" fill="#EDB120" class="bar"/>
<rect x="440.96" y="280.64" width="6.47" height="14.16" fill="#EDB120" class="bar"/>
<rect x="449.04" y="284.4" width="6.47" height="10.4" fill="#EDB120" class="bar"/>
<rect x="335.87" y="288.35" width="6.47" height="6.45" fill="#D95319" class="bar"/>
<rect x="343.96" y="288.35" width="6.47" height="6.45" fill="#D95319" class="bar"/>
<rect x="352.04" y="289.78" width="6.47" height="5.02" fill="#D95319" class="bar"/>
<rect x="360.12" y="291.75" width="6.47" height="3.05" fill="#D95319" class="bar"/>
<line x1="293" y1="222.4" x2="293" y2="294.8" stroke="rgb(86,205,86)" stroke-width="1"/>
<path d="M278.48 294.8v-4.2M278.48 219.2v4.2M286.57 294.8v-4.2M286.57 219.2v4.2M294.65 294.8v-4.2M294.65 219.2v4.2M302.73 294.8v-4.2M302.73 219.2v4.2M310.82 294.8v-4.2M310.82 219.2v4.2M318.9 294.8v-4.2M318.9 219.2v4.2M326.98 294.8v-4.2M326.98 219.2v4.2M335.07 294.8v-4.2M335.07 219.2v4.2M343.15 294.8v-4.2M343.15 219.2v4.2M351.23 294.8v-4.2M351.23 219.2v4.2M359.32 294.8v-4.2M359.32 219.2v4.2M367.4 294.8v-4.2M367.4 219.2v4.2M375.48 294.8v-4.2M375.48 219.2v4.2M383.57 294.8v-4.2M383.57 219.2v4.2M391.65 294.8v-4.2M391.65 219.2v4.2M399.73 294.8v-4.2M399.73 219.2v4.2M407.82 294.8v-4.2M407.82 219.2v4.2M415.9 294.8v-4.2M415.9 219.2v4.2M423.98 294.8v-4.2M423.98 219.2v4.2M432.07 294.8v-4.2M432.07 219.2v4.2M440.15 294.8v-4.2M440.15 219.2v4.2M448.23 294.8v-4.2M448.23 219.2v4.2M456.32 294.8v-4.2M456.32 219.2v4.2M270.4 291.21h2.2M464.4 291.21h-2.2M270.4 287.63h2.2M464.4 287.63h-2.2M270.4 284.04h2.2M464.4 284.04h-2.2M270.4 280.46h2.2M464.4 280.46h-2.2M270.4 276.87h4.2M464.4 276.87h-4.2M270.4 273.29h2.2M464.4 273.29h-2.2M270.4 269.7h2.2M464.4 269.7h-2.2M270.4 266.12h2.2M464.4 266.12h-2.2M270.4 262.53h2.2M464.4 262.53h-2.2M270.4 258.95h4.2M464.4 258.95h-4.2M270.4 255.36h2.2M464.4 255.36h-2.2M270.4 251.78h2.2M464.4 251.78h-2.2M270.4 248.19h2.2M464.4 248.19h-2.2M270.4 244.61h2.2M464.4 244.61h-2.2M270.4 241.02h4.2M464.4 241.02h-4.2M270.4 237.44h2.2M464.4 237.44h-2.2M270.4 233.85h2.2M464.4 233.85h-2.2M270.4 230.27h2.2M464.4 230.27h-2.2M270.4 226.68h2.2M464.4 226.68h-2.2M270.4 223.1h4.2M464.4 223.1h-4.2" class="tick"/>
<rect x="270.4" y="219.2" width="194" height="75.6" class="box"/>
<text x="258.6" y="299.75" class="tl" text-anchor="middle">0</text>
<text x="258.6" y="281.82" class="tl" text-anchor="middle">5</text>
<text x="258.6" y="263.9" class="tl" text-anchor="middle">10</text>
<text x="258.6" y="245.97" class="tl" text-anchor="middle">15</text>
<text x="258.6" y="228.05" class="tl" text-anchor="middle">20</text>
<text x="286.57" y="311.6" class="tl" text-anchor="middle">30</text>
<text x="302.73" y="311.6" class="tl" text-anchor="middle">20</text>
<text x="318.9" y="311.6" class="tl" text-anchor="middle">10</text>
<text x="335.07" y="311.6" class="tl" text-anchor="middle">0</text>
<text x="359.32" y="311.6" class="tl" text-anchor="middle">-15</text>
<text x="383.57" y="311.6" class="tl" text-anchor="middle">-30</text>
<text x="407.82" y="311.6" class="tl" text-anchor="middle">-45</text>
<text x="432.07" y="311.6" class="tl" text-anchor="middle">-60</text>
<text x="456.32" y="311.6" class="tl" text-anchor="middle">-75</text>
<text x="274.1" y="236.8" class="ann">CF=0.84</text>
<text x="459.8" y="236.8" class="ann" text-anchor="end" style="font-size:12.4px">R8</text>
<line x1="271.4" y1="381.47" x2="463.4" y2="381.47" class="grid"/>
<line x1="271.4" y1="363.55" x2="463.4" y2="363.55" class="grid"/>
<line x1="271.4" y1="345.62" x2="463.4" y2="345.62" class="grid"/>
<line x1="271.4" y1="327.7" x2="463.4" y2="327.7" class="grid"/>
<rect x="287.37" y="397.25" width="6.47" height="2.15" fill="#0072BD" class="bar"/>
<rect x="295.46" y="393.31" width="6.47" height="6.09" fill="#0072BD" class="bar"/>
<rect x="303.54" y="390.8" width="6.47" height="8.6" fill="#0072BD" class="bar"/>
<rect x="311.62" y="389" width="6.47" height="10.4" fill="#0072BD" class="bar"/>
<rect x="319.71" y="387.93" width="6.47" height="11.47" fill="#0072BD" class="bar"/>
<rect x="327.79" y="386.49" width="6.47" height="12.91" fill="#0072BD" class="bar"/>
<rect x="360.12" y="390.98" width="6.47" height="8.42" fill="#EDB120" class="bar"/>
<rect x="376.29" y="395.46" width="6.47" height="3.94" fill="#EDB120" class="bar"/>
<rect x="384.37" y="394.2" width="6.47" height="5.2" fill="#EDB120" class="bar"/>
<rect x="392.46" y="388.11" width="6.47" height="11.29" fill="#EDB120" class="bar"/>
<rect x="400.54" y="377.53" width="6.47" height="21.87" fill="#EDB120" class="bar"/>
<rect x="408.62" y="379.68" width="6.47" height="19.72" fill="#EDB120" class="bar"/>
<rect x="416.71" y="377.53" width="6.47" height="21.87" fill="#EDB120" class="bar"/>
<rect x="424.79" y="382.55" width="6.47" height="16.85" fill="#EDB120" class="bar"/>
<rect x="432.88" y="383.45" width="6.47" height="15.95" fill="#EDB120" class="bar"/>
<rect x="440.96" y="396.35" width="6.47" height="3.05" fill="#EDB120" class="bar"/>
<rect x="449.04" y="394.38" width="6.47" height="5.02" fill="#EDB120" class="bar"/>
<rect x="335.87" y="384.34" width="6.47" height="15.06" fill="#D95319" class="bar"/>
<rect x="343.96" y="386.85" width="6.47" height="12.55" fill="#D95319" class="bar"/>
<rect x="352.04" y="389.72" width="6.47" height="9.68" fill="#D95319" class="bar"/>
<rect x="360.12" y="391.69" width="6.47" height="7.71" fill="#D95319" class="bar"/>
<rect x="368.21" y="394.74" width="6.47" height="4.66" fill="#D95319" class="bar"/>
<rect x="376.29" y="397.25" width="6.47" height="2.15" fill="#D95319" class="bar"/>
<line x1="302.5" y1="327" x2="302.5" y2="399.4" stroke="rgb(86,205,86)" stroke-width="1"/>
<path d="M278.48 399.4v-4.2M278.48 323.8v4.2M286.57 399.4v-4.2M286.57 323.8v4.2M294.65 399.4v-4.2M294.65 323.8v4.2M302.73 399.4v-4.2M302.73 323.8v4.2M310.82 399.4v-4.2M310.82 323.8v4.2M318.9 399.4v-4.2M318.9 323.8v4.2M326.98 399.4v-4.2M326.98 323.8v4.2M335.07 399.4v-4.2M335.07 323.8v4.2M343.15 399.4v-4.2M343.15 323.8v4.2M351.23 399.4v-4.2M351.23 323.8v4.2M359.32 399.4v-4.2M359.32 323.8v4.2M367.4 399.4v-4.2M367.4 323.8v4.2M375.48 399.4v-4.2M375.48 323.8v4.2M383.57 399.4v-4.2M383.57 323.8v4.2M391.65 399.4v-4.2M391.65 323.8v4.2M399.73 399.4v-4.2M399.73 323.8v4.2M407.82 399.4v-4.2M407.82 323.8v4.2M415.9 399.4v-4.2M415.9 323.8v4.2M423.98 399.4v-4.2M423.98 323.8v4.2M432.07 399.4v-4.2M432.07 323.8v4.2M440.15 399.4v-4.2M440.15 323.8v4.2M448.23 399.4v-4.2M448.23 323.8v4.2M456.32 399.4v-4.2M456.32 323.8v4.2M270.4 395.81h2.2M464.4 395.81h-2.2M270.4 392.23h2.2M464.4 392.23h-2.2M270.4 388.64h2.2M464.4 388.64h-2.2M270.4 385.06h2.2M464.4 385.06h-2.2M270.4 381.47h4.2M464.4 381.47h-4.2M270.4 377.89h2.2M464.4 377.89h-2.2M270.4 374.3h2.2M464.4 374.3h-2.2M270.4 370.72h2.2M464.4 370.72h-2.2M270.4 367.13h2.2M464.4 367.13h-2.2M270.4 363.55h4.2M464.4 363.55h-4.2M270.4 359.96h2.2M464.4 359.96h-2.2M270.4 356.38h2.2M464.4 356.38h-2.2M270.4 352.79h2.2M464.4 352.79h-2.2M270.4 349.21h2.2M464.4 349.21h-2.2M270.4 345.62h4.2M464.4 345.62h-4.2M270.4 342.04h2.2M464.4 342.04h-2.2M270.4 338.45h2.2M464.4 338.45h-2.2M270.4 334.87h2.2M464.4 334.87h-2.2M270.4 331.28h2.2M464.4 331.28h-2.2M270.4 327.7h4.2M464.4 327.7h-4.2" class="tick"/>
<rect x="270.4" y="323.8" width="194" height="75.6" class="box"/>
<text x="258.6" y="404.35" class="tl" text-anchor="middle">0</text>
<text x="258.6" y="386.42" class="tl" text-anchor="middle">5</text>
<text x="258.6" y="368.5" class="tl" text-anchor="middle">10</text>
<text x="258.6" y="350.57" class="tl" text-anchor="middle">15</text>
<text x="258.6" y="332.65" class="tl" text-anchor="middle">20</text>
<text x="286.57" y="416.2" class="tl" text-anchor="middle">30</text>
<text x="302.73" y="416.2" class="tl" text-anchor="middle">20</text>
<text x="318.9" y="416.2" class="tl" text-anchor="middle">10</text>
<text x="335.07" y="416.2" class="tl" text-anchor="middle">0</text>
<text x="359.32" y="416.2" class="tl" text-anchor="middle">-15</text>
<text x="383.57" y="416.2" class="tl" text-anchor="middle">-30</text>
<text x="407.82" y="416.2" class="tl" text-anchor="middle">-45</text>
<text x="432.07" y="416.2" class="tl" text-anchor="middle">-60</text>
<text x="456.32" y="416.2" class="tl" text-anchor="middle">-75</text>
<text x="274.1" y="341.4" class="ann">CF=0.68</text>
<text x="459.8" y="341.4" class="ann" text-anchor="end" style="font-size:12.4px">R9</text>
<text x="137" y="542.7" class="lab" text-anchor="middle" style="font-size:14px">CTT (<tspan dy="-8.1" style="font-size:10px">o</tspan><tspan dy="8.1">C)</tspan></text>
<text x="366.9" y="437.4" class="lab" text-anchor="middle" style="font-size:14px">CTT (<tspan dy="-8.1" style="font-size:10px">o</tspan><tspan dy="8.1">C)</tspan></text>
<rect x="278.2" y="458.5" width="35.2" height="10.6" fill="#0072BD" class="bar"/>
<text x="319.9" y="469.3" class="leg">Warm Water</text>
<rect x="278.2" y="474.3" width="35.2" height="10.6" fill="#D95319" class="bar"/>
<text x="319.9" y="484.6" class="leg">Supercooled Water</text>
<rect x="278.2" y="489.5" width="35.2" height="10.6" fill="#EDB120" class="bar"/>
<text x="319.9" y="499.5" class="leg">Ice</text>
</svg>
</body></html>
